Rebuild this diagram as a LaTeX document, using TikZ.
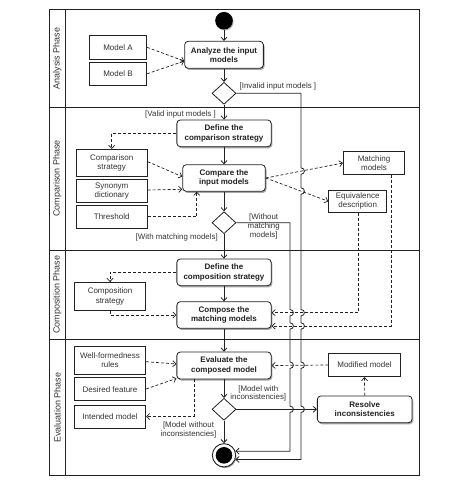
\documentclass[tikz,border=0pt]{standalone}
\usepackage{fontspec}
\setmainfont{Liberation Sans}
\usetikzlibrary{arrows.meta,shapes.geometric,shadows,calc}
\definecolor{linec}{gray}{0.13}
\definecolor{textc}{gray}{0.2}
\begin{document}
\begin{tikzpicture}[x=1pt,y=-1pt,
  action/.style={draw=linec, line width=0.8pt, rounded corners=3.5pt, fill=white, align=center,
    font=\fontsize{8}{9.3}\selectfont\bfseries, text=linec, inner sep=0pt,
    drop shadow={shadow xshift=1.2pt,shadow yshift=-1.6pt,opacity=.35,fill=black}},
  obj/.style={draw=linec, line width=0.7pt, fill=white, align=center,
    font=\fontsize{8}{9.2}\selectfont, text=textc, inner sep=0pt},
  decision/.style={draw=linec, line width=0.8pt, diamond, fill=white, inner sep=0pt,
    minimum width=24pt, minimum height=22pt},
  guard/.style={font=\fontsize{7.9}{8.9}\selectfont, text=textc, inner sep=0pt, align=center},
  lane/.style={font=\fontsize{9}{10}\selectfont, text=textc, rotate=90, inner sep=0pt},
  flow/.style={draw=linec, line width=0.8pt, -{Straight Barb[length=3.2pt,width=6pt]}},
  dep/.style={draw=linec, line width=0.7pt, dash pattern=on 3pt off 2pt, -{Straight Barb[length=3.2pt,width=6pt]}},
  hopat/.style 2 args={insert path={-- (#1,#2-3.2) .. controls (#1+4.5,#2-3.2) and (#1+4.5,#2+3.2) .. (#1,#2+3.2)}}
]
\useasboundingbox (0,0) rectangle (474,490);

% swimlane frame
\draw[linec, line width=0.8pt] (49.3,9.3) rectangle (419,475.7);
\draw[linec, line width=0.8pt] (65.3,9.3) -- (65.3,475.7);
\draw[linec, line width=0.8pt] (49.3,107.3) -- (419,107.3);
\draw[linec, line width=0.8pt] (49.3,250) -- (419,250);
\draw[linec, line width=0.8pt] (49.3,339.5) -- (419,339.5);
\node[lane] (laneA) at (57.3,58.3) {Analysis Phase};
\node[lane] (laneB) at (57.3,178.6) {Comparison Phase};
\node[lane] (laneC) at (57.3,294.7) {Composition Phase};
\node[lane] (laneD) at (57.3,407.6) {Evaluation Phase};

% nodes
\node[circle, fill=black, minimum size=17.6pt, inner sep=0pt,
  drop shadow={shadow xshift=0.8pt,shadow yshift=-1pt,opacity=.3,fill=black}] (start) at (224,20.7) {};
\node[action, minimum width=78.7pt, minimum height=27pt] (analyze) at (224,54.8) {Analyze the input\\models};
\node[obj, minimum width=57.4pt, minimum height=23.3pt] (modelA) at (118,47.3) {Model A};
\node[obj, minimum width=57.4pt, minimum height=23.7pt] (modelB) at (118,73.8) {Model B};
\node[decision] (d1) at (224,93.3) {};

\node[action, minimum width=94.3pt, minimum height=26.7pt] (defcmp) at (224,133.3) {Define the\\comparison strategy};
\node[obj, minimum width=71.3pt, minimum height=27.4pt] (cmpstrat) at (111.7,163) {Comparison\\strategy};
\node[obj, minimum width=71.3pt, minimum height=22.7pt] (synonym) at (111.7,190.7) {Synonym\\dictionary};
\node[obj, minimum width=71.3pt, minimum height=22.7pt] (threshold) at (111.7,216.7) {Threshold};
\node[action, minimum width=82.6pt, minimum height=26.6pt] (compare) at (224,178) {Compare the\\input models};
\node[decision] (d2) at (224,222.7) {};
\node[obj, minimum width=61.4pt, minimum height=22.6pt] (matching) at (374,163) {Matching\\models};
\node[obj, minimum width=58pt, minimum height=22.7pt] (equiv) at (357.7,201.3) {Equivalence\\description};

\node[action, minimum width=94.3pt, minimum height=26.7pt] (defcomp) at (224,272.3) {Define the\\composition strategy};
\node[obj, minimum width=71.4pt, minimum height=28.4pt] (compstrat) at (110,296.5) {Composition\\strategy};
\node[action, minimum width=94.3pt, minimum height=26.6pt] (compose) at (224,315) {Compose the\\matching models};

\node[action, minimum width=94.3pt, minimum height=27pt] (evaluate) at (224,365.5) {Evaluate the\\composed model};
\node[obj, minimum width=71.4pt, minimum height=27.3pt] (wellf) at (110,360.3) {Well-formedness\\rules};
\node[obj, minimum width=71.4pt, minimum height=23pt] (desired) at (110,389.2) {Desired feature};
\node[obj, minimum width=71.4pt, minimum height=23pt] (intended) at (110,416.5) {Intended model};
\node[decision] (d3) at (224,409.3) {};
\node[action, minimum width=94.7pt, minimum height=26.7pt] (resolve) at (364.7,409.3) {Resolve\\inconsistencies};
\node[obj, minimum width=71.6pt, minimum height=23.4pt] (modified) at (364.5,365) {Modified model};

\node[circle, draw=linec, line width=0.9pt, fill=white, minimum size=23.3pt, inner sep=0pt,
  drop shadow={shadow xshift=0.8pt,shadow yshift=-1.2pt,opacity=.35,fill=black}] (final) at (224,455.3) {};
\fill[black] (final.center) circle (8.3);

% guards
\node[guard, anchor=east] (gValid) at (216,114) {[Valid input models ]};
\node[guard, anchor=west] (gInvalid) at (239.5,86) {[Invalid input models ]};
\node[guard] (gWithout) at (263.7,226.5) {[Without\\matching\\models]};
\node[guard, anchor=east] (gWith) at (218,237.7) {[With matching models]};
\node[guard] (gModWith) at (258.3,393.5) {[Model with\\inconsistencies]};
\node[guard] (gModWithout) at (188.5,430) {[Model without\\inconsistencies]};

\coordinate (l1) at (301,0);
\coordinate (l2) at (290,0);

% control flows
\draw[flow] (start) -- (analyze);
\draw[flow] (analyze) -- (d1);
\draw[flow] (d1) -- (defcmp);
\draw[flow] (defcmp) -- (compare);
\draw[flow] (compare) -- (d2);
\draw[flow] (d2) -- (defcomp);
\draw[flow] (defcomp) -- (compose);
\draw[flow] (compose) -- (evaluate);
\draw[flow] (evaluate) -- (d3);
\draw[flow] (d3) -- (final);
\draw[flow] (d3.east) -- (resolve.west);
\draw[flow] (d1.east) -- (d1.east -| l1) [hopat={301}{171.1}] [hopat={301}{191.1}]
  [hopat={301}{312.7}] [hopat={301}{326}] [hopat={301}{365.2}] [hopat={301}{409.3}] |- (final.-20);
\draw[flow] (d2.east) -- (d2.east -| l2)
  [hopat={290}{312.7}] [hopat={290}{326}] [hopat={290}{365.2}] [hopat={290}{409.3}] |- (final.20);

% object flows / dependencies
\coordinate (aIn) at ($(analyze.west)+(0,6.3)$);
\draw[dep] (modelA.east) -- (aIn);
\draw[dep] (modelB.east) -- (aIn);
\draw[dep] (defcmp.west) -| (cmpstrat.north);
\draw[dep] ($(cmpstrat.east)+(0,-1.3)$) -- ($(compare.west)+(0,-1.3)$);
\draw[dep] ($(synonym.east)+(0,-0.7)$) -- ($(compare.west)+(0,11.3)$);
\draw[dep] (threshold.east) -| ($(compare.south)+(-27.3,0)$);
\draw[dep] (compare.east) -- (matching.west);
\draw[dep] (compare.east) -- (equiv.west);
\draw[dep] ($(matching.south)+(17,0)$) |- ($(compose.east)+(0,11)$);
\draw[dep] ($(equiv.south)+(0.6,0)$) |- ($(compose.east)+(0,-2.3)$);
\draw[dep] (defcomp.west) -| (compstrat.north);
\draw[dep] (compstrat.south) |- (compose.west);
\draw[dep] ($(wellf.east)+(0,1.4)$) -- ($(evaluate.west)+(0,-1.5)$);
\draw[dep] ($(desired.east)+(0,-0.2)$) -- ($(evaluate.south west)+(0,-1)$);
\draw[dep] ($(evaluate.south)+(-29.7,0)$) |- (intended.east);
\draw[dep] (resolve.north) -- (modified.south);
\draw[dep] (modified.west) -- (evaluate.east);
\end{tikzpicture}
\end{document}
